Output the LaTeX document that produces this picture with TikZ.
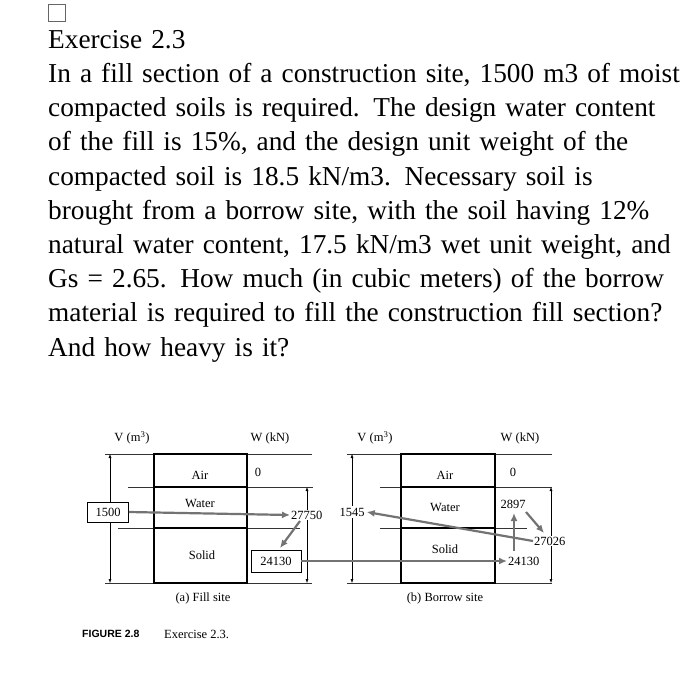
\documentclass[tikz,border=0pt]{standalone}
\usepackage{fontspec}
\setmainfont{Liberation Serif}
\newfontfamily\figsans{Liberation Sans}
\usetikzlibrary{arrows.meta}
\begin{document}
\begin{tikzpicture}[x=1pt,y=-1pt,
  thin line/.style={line width=0.6pt,black!80},
  box/.style={line width=1.6pt},
  dim/.style={line width=0.5pt,{Latex[length=4pt,width=3pt]}-{Latex[length=4pt,width=3pt]}},
  gar/.style={line width=2.2pt,black!55,-{Latex[length=8pt,width=7pt]}},
  lab/.style={inner sep=0pt,font=\fontsize{12.5}{14}\selectfont},
  numbox/.style={draw,line width=0.8pt,inner sep=2pt,minimum width=41pt,minimum height=20pt,font=\fontsize{12.5}{14}\selectfont},
  txt/.style={anchor=north west,inner sep=0pt,align=left,text width=680pt,font=\fontsize{27.3}{34.2}\selectfont}]
\useasboundingbox[fill=white] (0,0) rectangle (700,678);
\node[draw=black!60,line width=0.8pt,minimum size=17pt,inner sep=0pt] (chk) at (57,13) {};
\node[txt] (q) at (48,30) {Exercise 2.3\\In a fill section of a construction site, 1500 m3 of moist\\compacted soils is required. The design water content\\of the fill is 15\%, and the design unit weight of the\\compacted soil is 18.5 kN/m3. Necessary soil is\\brought from a borrow site, with the soil having 12\%\\natural water content, 17.5 kN/m3 wet unit weight, and\\Gs = 2.65. How much (in cubic meters) of the borrow\\material is required to fill the construction fill section?\\And how heavy is it?};
% left panel
\draw[thin line] (105,454) -- (312,454);
\draw[thin line] (128,487) -- (313,487);
\draw[thin line] (118,528) -- (300,528);
\draw[thin line] (105,583) -- (312,583);
\draw[box] (154,454) rectangle (247,583);
\draw[box] (154,487) -- (247,487) (154,528) -- (247,528);
\draw[dim] (110,454) -- (110,583);
\draw[dim] (307,487) -- (307,583);
\node[lab] (va) at (132,438) {V (m\textsuperscript{3})};
\node[lab] (wa) at (270,438) {W (kN)};
\node[lab] (aira) at (200,475) {Air};
\node[lab] (watera) at (200,503) {Water};
\node[lab] (solida) at (202,555) {Solid};
\node[lab] (za) at (258,472) {0};
\node[numbox,fill=white] (b1500) at (108,512) {1500};
\node[lab,anchor=west,fill=white,inner sep=1pt] (n27750) at (290,515) {27750};
\node[numbox,minimum width=50pt,minimum height=22pt,fill=white] (b24130) at (276,561) {24130};
\node[lab] (fa) at (203,598) {(a) Fill site};
% right panel
\draw[thin line] (347,454) -- (552,454);
\draw[thin line] (380,487) -- (552,487);
\draw[thin line] (380,528) -- (527,528);
\draw[thin line] (347,583) -- (552,583);
\draw[box] (401,454) rectangle (495,583);
\draw[box] (401,487) -- (495,487) (401,528) -- (495,528);
\draw[dim] (352,454) -- (352,583);
\draw[dim] (551,487) -- (551,583);
\node[lab] (vb) at (375,438) {V (m\textsuperscript{3})};
\node[lab] (wb) at (520,438) {W (kN)};
\node[lab] (airb) at (445,475) {Air};
\node[lab] (waterb) at (445,507) {Water};
\node[lab] (solidb) at (445,549) {Solid};
\node[lab] (zb) at (513,472) {0};
\node[lab,fill=white,inner sep=2pt] (n1545) at (352,512) {1545};
\node[lab] (n2897) at (513,504) {2897};
\node[lab,anchor=west,fill=white,inner sep=1pt] (n27026) at (533,541) {27026};
\node[lab,anchor=west,fill=white,inner sep=1pt] (n24130) at (507,561) {24130};
\node[lab] (fb) at (445,598) {(b) Borrow site};
% gray arrows
\draw[gar] (b1500.east) -- (n27750.west);
\draw[gar] (300,521) -- (280,548);
\draw[gar] (b24130.east) -- (n24130.west);
\draw[gar] (n27026.west) -- (n1545.east);
\draw[gar] (514,551) -- (514,513);
\draw[gar] (526,512) -- (544,533);
% caption
\node[lab,anchor=west,font=\figsans\bfseries\fontsize{10.5}{12}\selectfont] (fig) at (82,634) {FIGURE 2.8};
\node[lab,anchor=west] (figt) at (164,634) {Exercise 2.3.};
\end{tikzpicture}
\end{document}
